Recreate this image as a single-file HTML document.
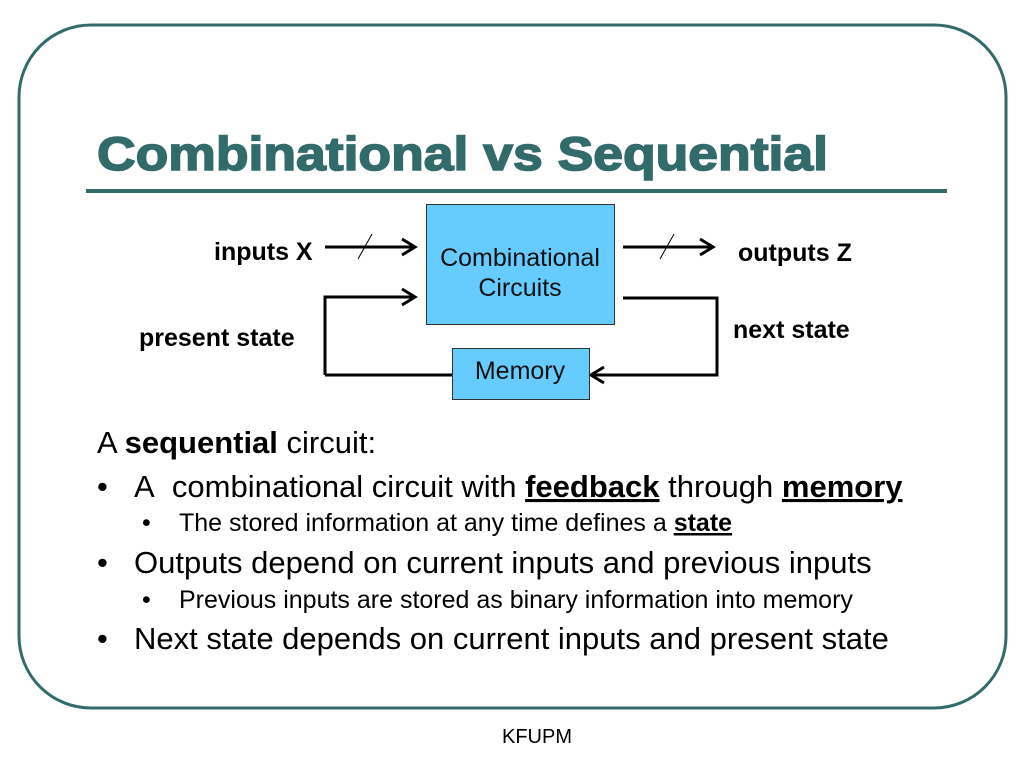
<!DOCTYPE html>
<html><head><meta charset="utf-8"><style>
body{margin:0;background:#fff;width:1024px;height:768px;overflow:hidden;font-family:"Liberation Sans",Arial,sans-serif}
</style></head><body>
<svg width="1024" height="768" viewBox="0 0 1024 768" xmlns="http://www.w3.org/2000/svg" font-family="Liberation Sans, Arial, sans-serif">
<rect x="19" y="25" width="987" height="683" rx="72" ry="72" fill="none" stroke="#336b6b" stroke-width="3"/>
<text x="97" y="170" font-size="47" font-weight="bold" fill="#336b6b" stroke="#336b6b" stroke-width="1.6" textLength="731" lengthAdjust="spacingAndGlyphs">Combinational vs Sequential</text>
<rect x="86" y="189" width="861" height="4" fill="#336b6b"/>
<g stroke="#000" stroke-width="3" fill="none">
<line x1="325" y1="247" x2="414" y2="247"/><polyline points="402,239 415,247 402,255"/>
<polyline points="325,375 325,297 414,297"/><polyline points="402,289 415,297 402,305"/>
<line x1="325" y1="375" x2="452" y2="375"/>
<line x1="623" y1="247" x2="712" y2="247"/><polyline points="700,239 713,247 700,255"/>
<polyline points="623,298 717,298 717,375 592,375"/><polyline points="604,367 591,375 604,383"/>
</g>
<g stroke="#000" stroke-width="1"><line x1="358" y1="259" x2="372" y2="234"/><line x1="660" y1="259" x2="674" y2="234"/></g>
<rect x="426.5" y="204.5" width="188" height="120" fill="#66ccff" stroke="#333" stroke-width="1"/>
<rect x="452.5" y="348.5" width="137" height="51" fill="#66ccff" stroke="#333" stroke-width="1"/>
<g font-size="25" fill="#111" text-anchor="middle">
<text x="520" y="266">Combinational</text><text x="520" y="296">Circuits</text><text x="520" y="379">Memory</text>
</g>
<g font-size="25" font-weight="bold" fill="#000">
<text x="214" y="260">inputs X</text><text x="738" y="261">outputs Z</text>
<text x="139" y="346">present state</text><text x="733" y="338">next state</text>
</g>
<g fill="#000">
<text x="97" y="453" font-size="31">A <tspan font-weight="bold">sequential</tspan> circuit:</text>
<text x="97" y="497" font-size="31">•</text>
<text x="134" y="497" font-size="31">A&#160; combinational circuit with <tspan font-weight="bold" text-decoration="underline">feedback</tspan> through <tspan font-weight="bold" text-decoration="underline">memory</tspan></text>
<text x="142" y="531" font-size="25">•</text>
<text x="179" y="531" font-size="25">The stored information at any time defines a <tspan font-weight="bold" text-decoration="underline">state</tspan></text>
<text x="97" y="573" font-size="31">•</text>
<text x="134" y="573" font-size="31">Outputs depend on current inputs and previous inputs</text>
<text x="142" y="608" font-size="25">•</text>
<text x="179" y="608" font-size="25">Previous inputs are stored as binary information into memory</text>
<text x="97" y="649" font-size="31">•</text>
<text x="134" y="649" font-size="31">Next state depends on current inputs and present state</text>
<text x="537" y="743" font-size="20" text-anchor="middle">KFUPM</text>
</g>
</svg>
</body></html>
